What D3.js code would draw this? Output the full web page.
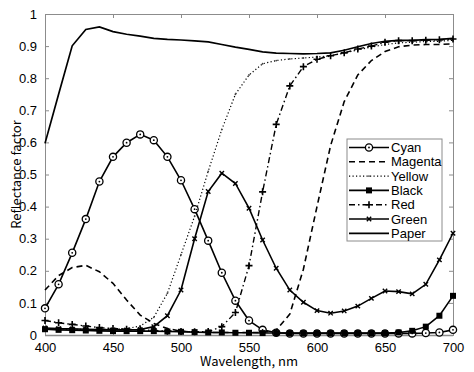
<!DOCTYPE html>
<html>
<head>
<meta charset="utf-8">
<script src="https://cdn.jsdelivr.net/npm/d3@7"></script>
<style>
  html, body { margin: 0; padding: 0; background: #fff; overflow: hidden; }
  svg { display: block; }
  svg text { font-family: "Liberation Sans", Arial, sans-serif; }
  .axis-label { font-family: "Noto Sans CJK JP", "Liberation Sans", sans-serif !important; }
</style>
</head>
<body>
<svg id="chart" width="474" height="372"></svg>
<script>
const wavelengths = [400,410,420,430,440,450,460,470,480,490,500,510,520,530,540,550,560,570,580,590,600,610,620,630,640,650,660,670,680,690,700];

const cyan =    [0.083,0.158,0.256,0.361,0.478,0.555,0.599,0.625,0.607,0.555,0.482,0.392,0.294,0.194,0.107,0.045,0.016,0.007,0.005,0.005,0.005,0.005,0.005,0.005,0.005,0.005,0.005,0.005,0.006,0.008,0.016];
const magenta = [0.14,0.185,0.21,0.217,0.197,0.161,0.109,0.062,0.036,0.02,0.012,0.009,0.008,0.008,0.008,0.008,0.008,0.015,0.065,0.205,0.40,0.59,0.727,0.81,0.855,0.883,0.898,0.903,0.905,0.905,0.907];
const yellow =  [0.02,0.019,0.018,0.017,0.017,0.018,0.02,0.028,0.055,0.13,0.25,0.37,0.51,0.64,0.75,0.81,0.845,0.855,0.86,0.863,0.866,0.87,0.878,0.888,0.897,0.905,0.91,0.912,0.914,0.915,0.918];
const black =   [0.018,0.016,0.015,0.014,0.013,0.012,0.012,0.012,0.012,0.011,0.01,0.009,0.008,0.008,0.007,0.007,0.006,0.006,0.006,0.006,0.006,0.006,0.006,0.006,0.006,0.006,0.008,0.013,0.026,0.06,0.122];
const red =     [0.045,0.038,0.033,0.028,0.023,0.02,0.018,0.016,0.014,0.012,0.011,0.01,0.011,0.026,0.07,0.216,0.446,0.656,0.776,0.836,0.859,0.87,0.879,0.891,0.9,0.912,0.917,0.917,0.918,0.92,0.922];
const green =   [0.022,0.02,0.019,0.018,0.017,0.016,0.016,0.017,0.026,0.06,0.14,0.3,0.447,0.504,0.472,0.395,0.296,0.208,0.14,0.102,0.076,0.068,0.075,0.09,0.114,0.137,0.135,0.128,0.158,0.234,0.317];
const paper =   [0.597,0.75,0.901,0.952,0.96,0.945,0.937,0.931,0.924,0.921,0.919,0.916,0.913,0.905,0.897,0.89,0.882,0.878,0.877,0.876,0.877,0.879,0.887,0.898,0.908,0.915,0.918,0.918,0.92,0.921,0.924];

const seriesNames = ["Cyan","Magenta","Yellow","Black","Red","Green","Paper"];
const xTicks = [400,450,500,550,600,650,700];
const yTicks = [0,0.1,0.2,0.3,0.4,0.5,0.6,0.7,0.8,0.9,1];
const xLabel = "Wavelength, nm";
const yLabel = "Reflectance factor";

const svg = d3.select('#chart');
const margin = { left: 45, right: 21, top: 14, bottom: 37 };
const width = +svg.attr('width');
const height = +svg.attr('height');
const innerWidth = width - margin.left - margin.right;
const innerHeight = height - margin.top - margin.bottom;
const axisColor = "#8c8c8c";

const xScale = d3.scaleLinear().domain([400, 700]).range([0, innerWidth]);
const yScale = d3.scaleLinear().domain([0, 1]).range([innerHeight, 0]);

const g = svg.append('g')
  .attr('transform', `translate(${margin.left},${margin.top})`);

// styles per series: dash, marker
const styles = {
  Cyan:    { dash: null,          marker: 'circle', width: 1.6 },
  Magenta: { dash: "6,4",         marker: null,     width: 1.6 },
  Yellow:  { dash: "1.2,2.3",     marker: 'dot',    width: 1.2 },
  Black:   { dash: null,          marker: 'square', width: 1.6 },
  Red:     { dash: "6,3,1.5,3",   marker: 'plus',   width: 1.4 },
  Green:   { dash: null,          marker: 'cross',  width: 1.6 },
  Paper:   { dash: null,          marker: null,     width: 1.7 }
};
const seriesData = { Cyan: cyan, Magenta: magenta, Yellow: yellow, Black: black, Red: red, Green: green, Paper: paper };

const drawMarker = (sel, type, x, y) => {
  if (type === 'circle') {
    sel.append('circle').attr('cx', x).attr('cy', y).attr('r', 3.6)
      .attr('fill', 'white').attr('stroke', 'black').attr('stroke-width', 1.3);
    sel.append('circle').attr('cx', x).attr('cy', y).attr('r', 0.9).attr('fill', 'black');
  } else if (type === 'square') {
    sel.append('rect').attr('x', x - 3).attr('y', y - 3).attr('width', 6).attr('height', 6)
      .attr('fill', 'black');
  } else if (type === 'plus') {
    sel.append('path').attr('d', `M${x-3.5},${y}H${x+3.5}M${x},${y-3.5}V${y+3.5}`)
      .attr('stroke', 'black').attr('stroke-width', 1.6);
  } else if (type === 'cross') {
    sel.append('path').attr('d', `M${x-2.2},${y-2.2}L${x+2.2},${y+2.2}M${x-2.2},${y+2.2}L${x+2.2},${y-2.2}`)
      .attr('stroke', 'black').attr('stroke-width', 1.4);
  } else if (type === 'dot') {
    sel.append('circle').attr('cx', x).attr('cy', y).attr('r', 0.9).attr('fill', '#444');
  }
};

// axes (MATLAB-style box, inward ticks)
const xAxis = d3.axisBottom(xScale).tickValues(xTicks).tickSize(-4).tickPadding(8).tickFormat(d3.format('d'));
const xAxisTop = d3.axisTop(xScale).tickValues(xTicks).tickSize(-4).tickFormat('');
const yAxis = d3.axisLeft(yScale).tickValues(yTicks).tickSize(-4).tickPadding(8).tickFormat(d => String(d));
const yAxisRight = d3.axisRight(yScale).tickValues(yTicks).tickSize(-4).tickFormat('');

const styleAxis = a => {
  a.select('.domain').attr('stroke', axisColor);
  a.selectAll('.tick line').attr('stroke', axisColor);
  a.selectAll('.tick text').attr('fill', 'black').style('font-size', '13px');
};

g.append('g').attr('transform', `translate(0,${innerHeight})`).call(xAxis).call(styleAxis);
g.append('g').call(xAxisTop).call(styleAxis);
g.append('g').call(yAxis).call(styleAxis);
g.append('g').attr('transform', `translate(${innerWidth},0)`).call(yAxisRight).call(styleAxis);

g.append('line')
  .attr('x1', 0).attr('x2', innerWidth)
  .attr('y1', innerHeight + 0.5).attr('y2', innerHeight + 0.5)
  .attr('stroke', axisColor).attr('stroke-width', 1.5);

// lines
const line = d3.line()
  .x((d, i) => xScale(wavelengths[i]))
  .y(d => yScale(d));

seriesNames.forEach(name => {
  const s = styles[name];
  g.append('path')
    .datum(seriesData[name])
    .attr('fill', 'none')
    .attr('stroke', 'black')
    .attr('stroke-width', s.width)
    .attr('stroke-dasharray', s.dash)
    .attr('d', line);
  if (s.marker) {
    const mg = g.append('g');
    seriesData[name].forEach((v, i) => drawMarker(mg, s.marker, xScale(wavelengths[i]), yScale(v)));
  }
});

// axis labels
svg.append('text')
  .attr('class', 'axis-label')
  .attr('x', margin.left + innerWidth / 2)
  .attr('y', 366)
  .style('text-anchor', 'middle')
  .style('font-size', '13px')
  .text(xLabel);

svg.append('text')
  .attr('class', 'axis-label')
  .attr('transform', `translate(21,${margin.top + innerHeight / 2}) rotate(-90)`)
  .style('text-anchor', 'middle')
  .style('font-size', '13px')
  .text(yLabel);

// legend
const legend = svg.append('g').attr('transform', 'translate(347,139)');
legend.append('rect')
  .attr('width', 95).attr('height', 102)
  .attr('fill', 'white').attr('stroke', axisColor);

seriesNames.forEach((name, i) => {
  const s = styles[name];
  const y = 8.5 + i * 14.3;
  legend.append('line')
    .attr('x1', 2).attr('x2', 42).attr('y1', y).attr('y2', y)
    .attr('stroke', 'black').attr('stroke-width', s.width)
    .attr('stroke-dasharray', s.dash);
  if (s.marker) drawMarker(legend, s.marker, 22, y);
  legend.append('text')
    .attr('x', 44).attr('y', y + 4.5)
    .style('font-size', '13px')
    .text(name);
});
</script>
</body>
</html>
